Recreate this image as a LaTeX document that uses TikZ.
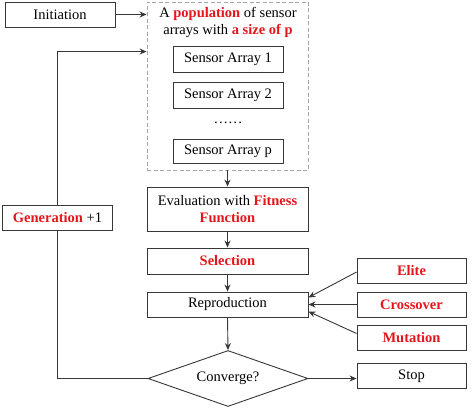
\documentclass[tikz,border=0pt]{standalone}
\usepackage{fontspec}
\setmainfont{Liberation Serif}
\usetikzlibrary{shapes.geometric,arrows.meta}
\definecolor{hl}{RGB}{228,22,28}
\definecolor{edge}{RGB}{55,55,55}
\newcommand{\hlt}[1]{\textcolor{hl}{\textbf{#1}}}
\tikzset{
  box/.style={draw=edge, line width=0.9pt, rectangle, inner sep=0pt, align=center, font=\fontsize{14.5}{17}\selectfont},
  popbox/.style={draw=gray!70, dashed, dash pattern=on 4pt off 2.5pt, line width=0.9pt, rectangle, inner sep=0pt},
  decision/.style={draw=edge, line width=0.9pt, diamond, aspect=2.86, inner sep=0pt, font=\fontsize{14.5}{17}\selectfont},
  txt/.style={align=center, inner sep=0pt, font=\fontsize{14.5}{17}\selectfont},
  arr/.style={draw=edge, line width=0.9pt, -{Stealth[length=7pt,width=6pt]}},
  ln/.style={draw=edge, line width=0.9pt}
}
\begin{document}
\begin{tikzpicture}[x=1pt,y=-1pt]
\useasboundingbox (0,0) rectangle (474,409);
\node[box, minimum width=110, minimum height=25] (init) at (60,14.5) {Initiation};
\node[popbox, minimum width=161, minimum height=168] (pop) at (227.5,86) {};
\node[txt] (poptext) at (228,22.5) {A \hlt{population} of sensor\\arrays with \hlt{a size of p}};
\node[box, minimum width=110, minimum height=26] (sa1) at (228,59) {Sensor Array 1};
\node[box, minimum width=110, minimum height=26] (sa2) at (228,95) {Sensor Array 2};
\node[txt] (dots) at (228,123) {……};
\node[box, minimum width=110, minimum height=24] (sap) at (228,151.5) {Sensor Array p};
\node[box, minimum width=161, minimum height=44] (eval) at (227.5,209) {Evaluation with \hlt{Fitness}\\\hlt{Function}};
\node[box, minimum width=161, minimum height=26] (sel) at (227.5,261) {\hlt{Selection}};
\node[box, minimum width=161, minimum height=25] (rep) at (227.5,304.5) {Reproduction};
\node[decision, minimum width=160, minimum height=56] (conv) at (228,378.5) {Converge?};
\node[box, minimum width=109, minimum height=25] (stop) at (411.5,376) {Stop};
\node[box, minimum width=109, minimum height=25] (elite) at (411.5,270.5) {\hlt{Elite}};
\node[box, minimum width=109, minimum height=25] (cross) at (411.5,304.5) {\hlt{Crossover}};
\node[box, minimum width=109, minimum height=25] (mut) at (411.5,337.5) {\hlt{Mutation}};
\node[box, minimum width=110, minimum height=25] (gen) at (57.5,217.5) {\hlt{Generation} +1};
\draw[arr] (init.east) -- (pop.west |- init.east);
\draw[arr] (pop.south -| eval.north) -- (eval.north);
\draw[arr] (eval.south) -- (sel.north);
\draw[arr] (sel.south) -- (rep.north);
\draw[arr] (rep.south) -- (conv.north);
\draw[arr] (conv.east) -- (stop.west |- conv.east);
\draw[arr] ([yshift=-1.5pt]elite.west) -- ([yshift=7pt]rep.east);
\draw[arr] (cross.west) -- (rep.east);
\draw[arr] ([yshift=4pt]mut.west) -- ([yshift=-7pt]rep.east);
\draw[ln] (conv.west) -| (gen.south);
\draw[arr] (gen.north) |- ([yshift=-50pt]pop.north west);
\end{tikzpicture}
\end{document}
